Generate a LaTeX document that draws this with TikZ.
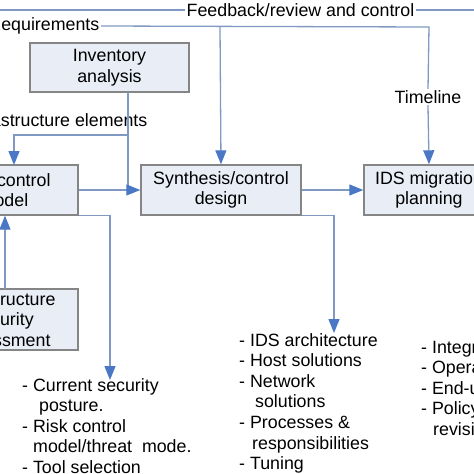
\documentclass[tikz,border=0pt]{standalone}
\usepackage{fontspec}
\setmainfont{Liberation Sans}
\usetikzlibrary{arrows.meta}
\definecolor{linkblue}{HTML}{7F99C2}
\definecolor{tipblue}{HTML}{4A78C4}
\definecolor{boxfill}{HTML}{E8EDF6}
\definecolor{boxline}{HTML}{858585}
\tikzset{
  stagebox/.style={draw=boxline, line width=1.4pt, fill=boxfill, align=center, inner sep=0pt},
  link/.style={draw=linkblue, line width=1.3pt},
  flow/.style={link, -{Triangle[width=11pt,length=14pt,color=tipblue]}},
  lbl/.style={inner sep=1.5pt},
  bullets/.style={align=left, inner sep=0pt, anchor=north west}
}
\begin{document}
\begin{tikzpicture}[x=1pt, y=-1pt, font=\fontsize{17.8}{20.6}\selectfont]
\useasboundingbox (0,0) rectangle (474,474);
\clip (0,0) rectangle (474,474);
% boxes
\node[stagebox, minimum width=159pt, minimum height=49pt] (inv) at (109.5,67.5) {Inventory\\analysis};
\node[stagebox, minimum width=148pt, minimum height=50pt] (rcm) at (4,190) {Risk control\\model};
\node[stagebox, minimum width=160pt, minimum height=50pt] (syn) at (221,190) {Synthesis/control\\design};
\node[stagebox, minimum width=130pt, minimum height=50pt] (mig) at (429,190) {IDS migration\\planning};
\node[stagebox, minimum width=150pt, minimum height=61pt] (isa) at (3,319.5) {Infrastructure\\security\\assessment};
% labels
\node[lbl] (fb) at (300.5,10) {Feedback/review and control};
\node[lbl, anchor=east] (req) at (101,26) {Requirements};
\node[lbl, anchor=east] (ise) at (149,120) {Infrastructure elements};
\node[lbl] (tl) at (428,97) {Timeline};
\coordinate (fbl) at (0,10);
\coordinate (fbr) at (474,10);
\coordinate (reqr) at (429,27);
\coordinate (synin) at (220,27);
\coordinate (invout) at (128,92);
\coordinate (invsplit) at (128,135);
\coordinate (rcmin) at (14,165);
\coordinate (isaout) at (5,289);
\coordinate (tipa) at (110,380);
\coordinate (tipb) at (334,333);
% lists
\node[bullets] (lista) at (22,378) {- Current security\\\hspace*{17pt}posture.\\- Risk control\\\hspace*{11pt}model/threat\ \ mode.\\- Tool selection};
\node[bullets] (listb) at (239,333) {- IDS architecture\\- Host solutions\\- Network\\\hspace*{16pt}solutions\\- Processes \&\\\hspace*{13pt}responsibilities\\- Tuning};
\node[bullets] (listc) at (421,340) {- Integration\\- Operations\\- End-user training\\- Policy\\\hspace*{12pt}revision};
% connectors
\draw[link] (fbl) -- (fb.west);
\draw[link] (fb.east) -- (fbr);
\draw[link] (req.east) -- (reqr) -- (tl.north);
\draw[flow] (tl.south) -- (mig.north);
\draw[flow] (synin) -- (syn.north);
\draw[link] (invout) -- (invout |- syn.west);
\draw[flow] (invsplit) -| (rcmin);
\draw[flow] (rcm.east) -- (syn.west);
\draw[flow] (syn.east) -- (mig.west);
\draw[flow] (isaout) -- (isaout |- rcm.south);
\draw[flow] (rcm.south east) -| (tipa);
\draw[flow] (syn.south east) -| (tipb);
\end{tikzpicture}
\end{document}
